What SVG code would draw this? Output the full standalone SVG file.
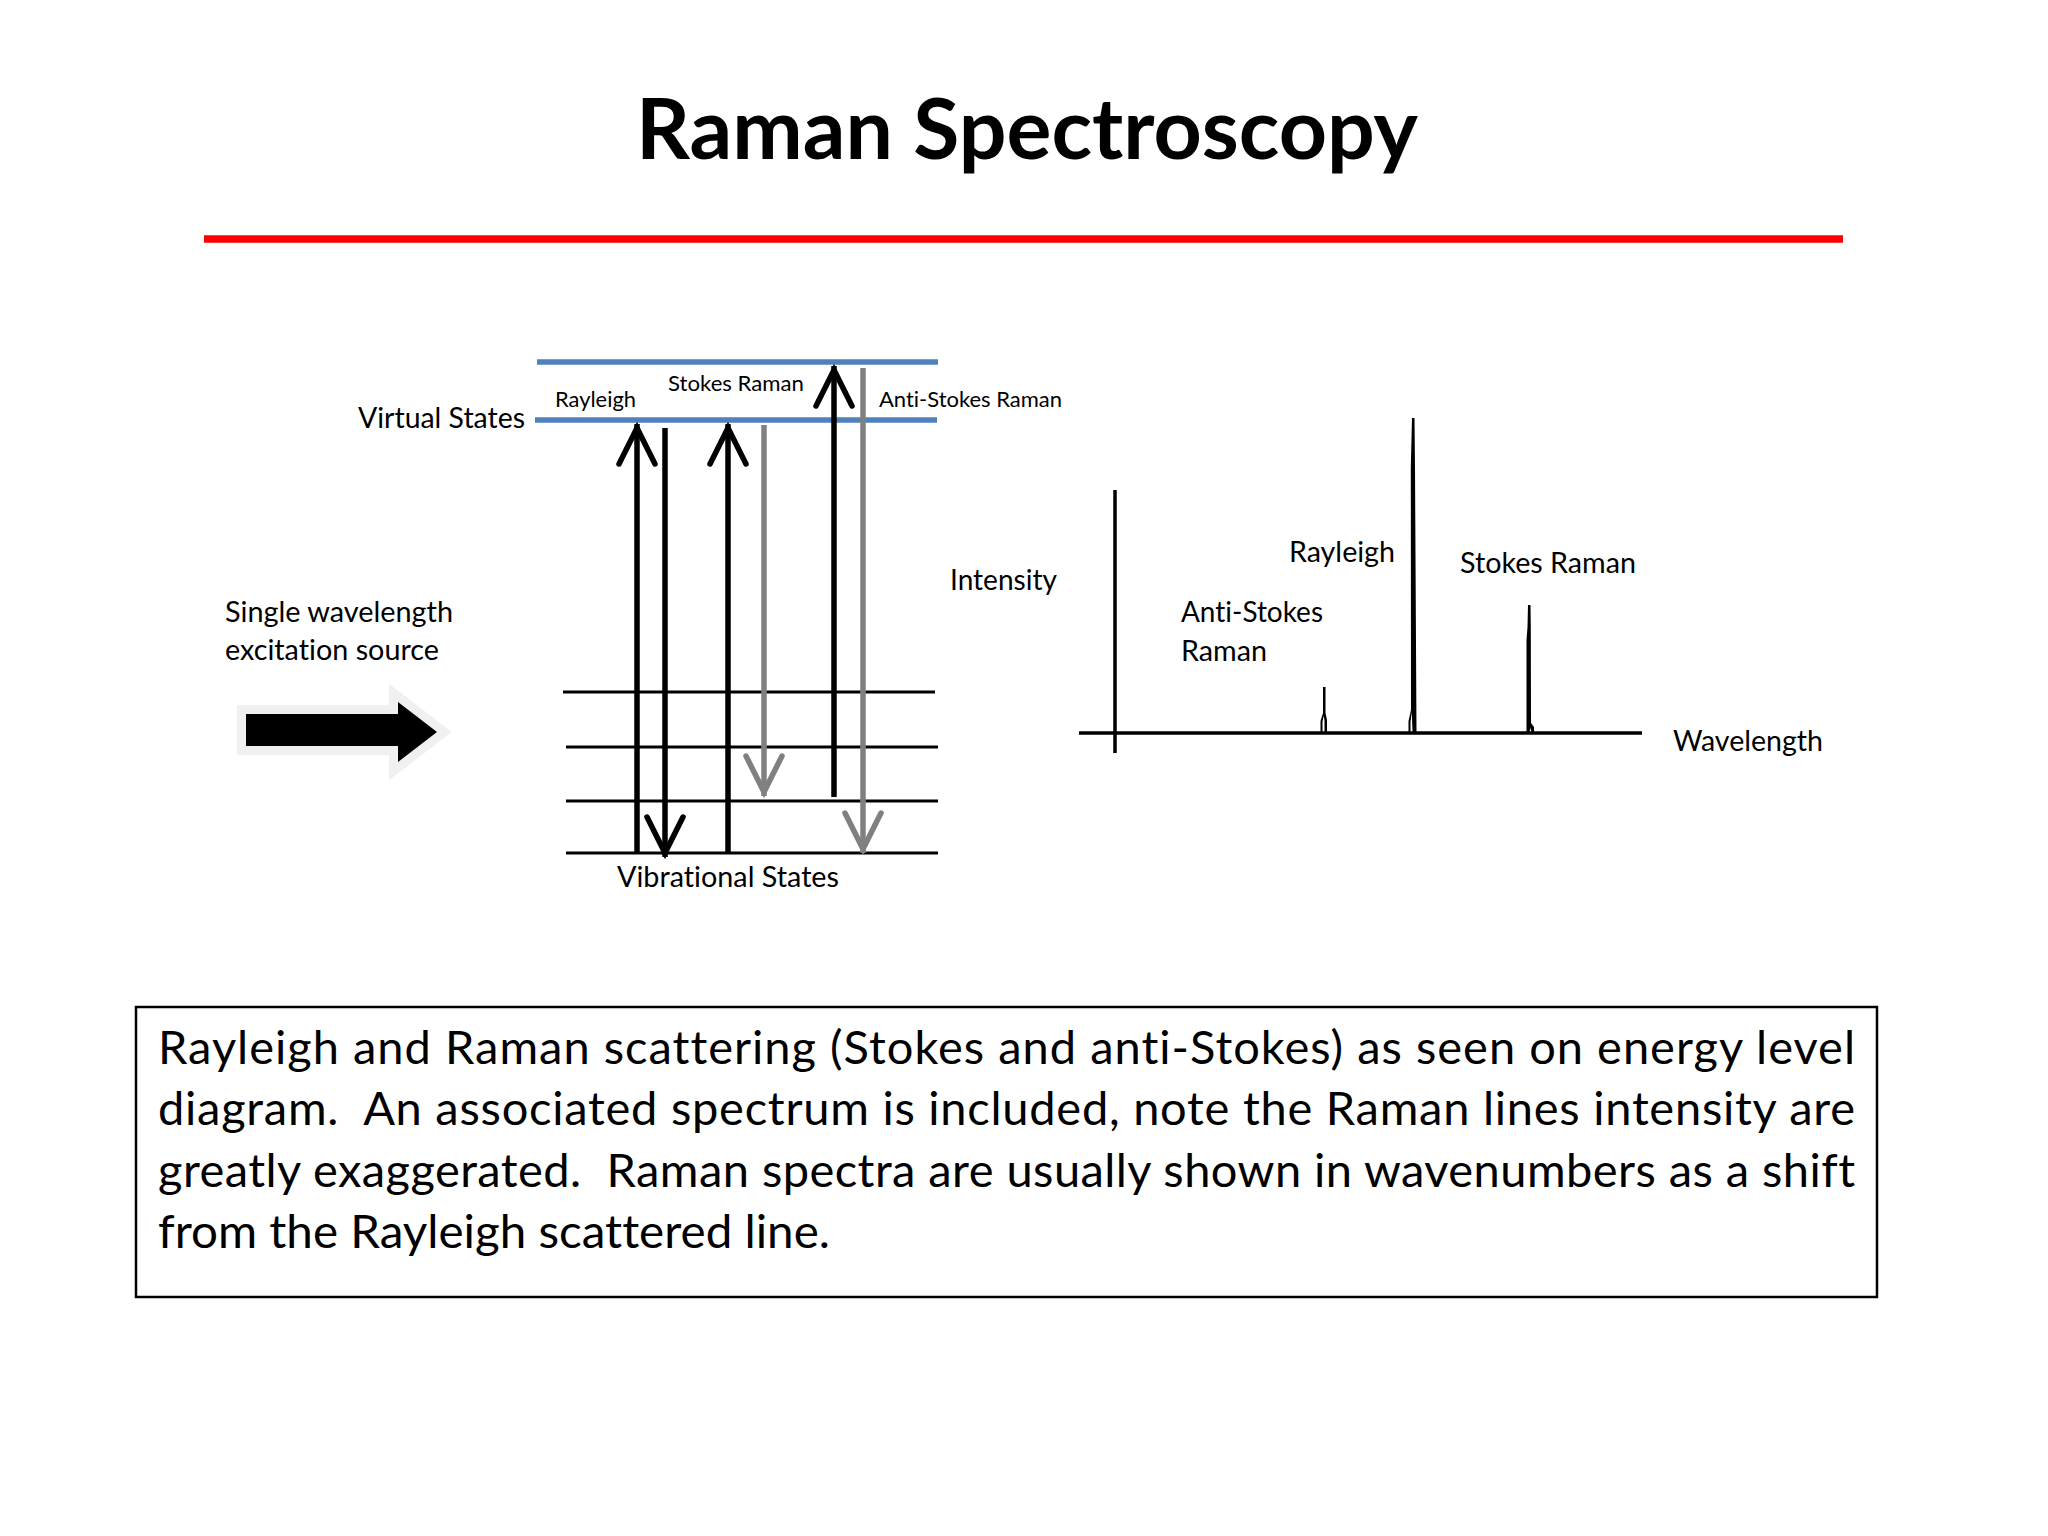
<svg xmlns="http://www.w3.org/2000/svg" width="2048" height="1536" viewBox="0 0 2048 1536">
<style>
  text { font-family: Lato, "Open Sans", sans-serif; fill: #000; font-variant-ligatures: none; }
  .title { font-weight: 700; font-size: 84px; }
  .sm { font-size: 22px; }
  .md { font-size: 28.5px; }
  .cap { font-size: 47px; white-space: pre; }
  .vib { stroke: #000; stroke-width: 3; }
  .virt { stroke: #4f81bd; stroke-width: 5.5; }
  .blk { stroke: #000; stroke-width: 5.5; fill: none; }
  .gry { stroke: #808080; stroke-width: 5.5; fill: none; }
  .ax { stroke: #000; stroke-width: 3.5; }
</style>
<defs>
  <marker id="hb" markerUnits="userSpaceOnUse" orient="auto" refX="0" refY="0" markerWidth="60" markerHeight="60" overflow="visible">
    <path d="M-40,-18 L-4,0 L-40,18" fill="none" stroke="#000" stroke-width="5.5" stroke-linecap="round"/>
  </marker>
  <marker id="hg" markerUnits="userSpaceOnUse" orient="auto" refX="0" refY="0" markerWidth="60" markerHeight="60" overflow="visible">
    <path d="M-40,-18 L-4,0 L-40,18" fill="none" stroke="#808080" stroke-width="5.5" stroke-linecap="round"/>
  </marker>
</defs>
<rect x="0" y="0" width="2048" height="1536" fill="#ffffff"/>

<g id="title">
  <text x="1027" y="159" text-anchor="middle" class="title" textLength="782" lengthAdjust="spacingAndGlyphs">Raman Spectroscopy</text>
  <line x1="204" y1="239" x2="1843" y2="239" stroke="#ff0000" stroke-width="7.5"/>
</g>

<g id="virtual-states">
  <line class="virt" x1="537" y1="362" x2="938" y2="362"/>
  <line class="virt" x1="535" y1="420" x2="937" y2="420"/>
  <text class="md" x="358" y="428" textLength="167" lengthAdjust="spacingAndGlyphs">Virtual States</text>
  <text class="sm" x="555" y="407" textLength="81" lengthAdjust="spacingAndGlyphs">Rayleigh</text>
  <text class="sm" x="668" y="391" textLength="136" lengthAdjust="spacingAndGlyphs">Stokes Raman</text>
  <text class="sm" x="879" y="407" textLength="183" lengthAdjust="spacingAndGlyphs">Anti-Stokes Raman</text>
</g>

<g id="vibrational-states">
  <line class="vib" x1="563" y1="692" x2="935" y2="692"/>
  <line class="vib" x1="566" y1="747" x2="938" y2="747"/>
  <line class="vib" x1="566" y1="801" x2="938" y2="801"/>
  <line class="vib" x1="566" y1="853" x2="938" y2="853"/>
  <text class="md" x="617" y="887" textLength="222" lengthAdjust="spacingAndGlyphs">Vibrational States</text>
</g>

<g id="transitions">
  <line class="blk" x1="637" y1="853" x2="637" y2="424" marker-end="url(#hb)"/>
  <line class="blk" x1="665" y1="428" x2="665" y2="857" marker-end="url(#hb)"/>
  <line class="blk" x1="728" y1="853" x2="728" y2="424" marker-end="url(#hb)"/>
  <line class="gry" x1="764" y1="425" x2="764" y2="796" marker-end="url(#hg)"/>
  <line class="blk" x1="834" y1="797" x2="834" y2="366" marker-end="url(#hb)"/>
  <line class="gry" x1="863" y1="368" x2="863" y2="853" marker-end="url(#hg)"/>
</g>

<g id="excitation-source">
  <text class="md" x="225" y="622" textLength="228" lengthAdjust="spacingAndGlyphs">Single wavelength</text>
  <text class="md" x="225" y="660" textLength="214" lengthAdjust="spacingAndGlyphs">excitation source</text>
  <polygon points="246,714 398,714 398,702 437,732 398,762 398,746 246,746" fill="#000" stroke="#f0f0f0" stroke-width="18" stroke-linejoin="miter" paint-order="stroke"/>
</g>

<g id="spectrum">
  <line class="ax" x1="1115" y1="490" x2="1115" y2="753"/>
  <line class="ax" x1="1079" y1="733" x2="1642" y2="733"/>
  <path d="M1323,687 L1325.5,687 L1325.5,713 L1327,720 L1327,732 L1324.5,732 L1324.5,720 L1323.5,716 L1322.5,722 L1322.5,732 L1320.5,732 L1320.5,721 L1323,713 Z" fill="#000"/>
  <path d="M1412,418 L1414.5,418 L1415,467 L1416.5,732 L1412.5,732 L1411.8,712 L1410.5,722 L1410.5,732 L1408.5,732 L1408.5,721 L1411,710 L1410.8,467 Z" fill="#000"/>
  <path d="M1528,605 L1530.5,605 L1530.8,627 L1531,723 L1534,727 L1534,732 L1531.5,732 L1530.5,728 L1529.5,732 L1526.5,732 L1526.5,640 L1527.5,627 Z" fill="#000"/>
  <text class="md" x="950" y="590" textLength="107" lengthAdjust="spacingAndGlyphs">Intensity</text>
  <text class="md" x="1289" y="562" textLength="106" lengthAdjust="spacingAndGlyphs">Rayleigh</text>
  <text class="md" x="1460" y="573" textLength="176" lengthAdjust="spacingAndGlyphs">Stokes Raman</text>
  <text class="md" x="1181" y="622" textLength="142" lengthAdjust="spacingAndGlyphs">Anti-Stokes</text>
  <text class="md" x="1181" y="661" textLength="86" lengthAdjust="spacingAndGlyphs">Raman</text>
  <text class="md" x="1673" y="751" textLength="150" lengthAdjust="spacingAndGlyphs">Wavelength</text>
</g>

<g id="caption">
  <rect x="136" y="1007" width="1741" height="290" fill="none" stroke="#000" stroke-width="2.5"/>
  <text class="cap" x="158" y="1064" textLength="1697" lengthAdjust="spacing">Rayleigh and Raman scattering (Stokes and anti-Stokes) as seen on energy level</text>
  <text class="cap" x="158" y="1125" textLength="1697" lengthAdjust="spacing" xml:space="preserve">diagram.  An associated spectrum is included, note the Raman lines intensity are</text>
  <text class="cap" x="158" y="1187" textLength="1697" lengthAdjust="spacing" xml:space="preserve">greatly exaggerated.  Raman spectra are usually shown in wavenumbers as a shift</text>
  <text class="cap" x="158" y="1248" textLength="672" lengthAdjust="spacingAndGlyphs">from the Rayleigh scattered line.</text>
</g>
</svg>
